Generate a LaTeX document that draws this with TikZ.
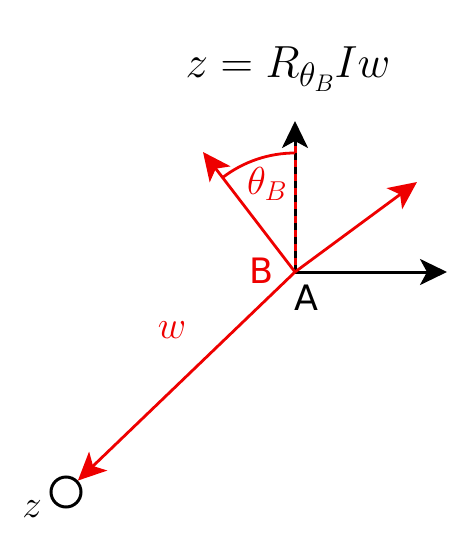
\RequirePackage{fix-cm}
\documentclass[tikz,border=0pt]{standalone}
\usepackage{fontspec}
\newfontfamily\dejavu{DejaVu Sans}
\usetikzlibrary{arrows.meta}
\DeclareMathSizes{45}{45}{34}{24}
\definecolor{rd}{RGB}{238,0,0}
\tikzset{
  blk/.style={line width=3pt, draw=black},
  redl/.style={line width=2.8pt, draw=rd},
  headb/.style={-{Stealth[length=27pt,width=26pt,inset=7pt]}},
  headr/.style={-{Stealth[length=28pt,width=26pt,inset=7pt]}},
  sans/.style={font=\dejavu\fontsize{35}{36}\selectfont},
  mth/.style={font=\fontsize{39}{41}\selectfont},
}
\begin{document}
\begin{tikzpicture}[x=1pt,y=-1pt]
\useasboundingbox (0,0) rectangle (474,553);
\coordinate (O) at (295,272);
\coordinate (X) at (447,272);
\coordinate (Y) at (295,121);
\coordinate (Ytop) at (295,135);
\coordinate (W) at (417,182);
\coordinate (R) at (203,152);
\coordinate (A1) at (295,153);
\node[circle, draw, line width=3pt, minimum size=30pt, inner sep=0pt] (z) at (66,492) {};
% black right arrow
\draw[blk, headb] (O) -- (X);
% red under dashed
\draw[redl, line width=3pt] (O) -- (Ytop);
\draw[blk, dash pattern=on 7pt off 7pt, headb] (O) -- (Y);
% red arrows
\draw[redl, headr] (O) -- (R);
\draw[redl, headr] (O) -- (W);
\draw[redl, headr] (O) -- (z);
% arc
\draw[redl] (A1) arc[start angle=-90, end angle=-127.5, radius=119];
% labels
\node[sans, text=rd] (lB) at (262,271) {B};
\node[sans] (lA) at (306,298) {A};
\node[mth, text=rd] (lw) at (172,330) {$w$};
\node[mth, text=rd] (lth) at (267,184) {$\theta_B$};
\node[mth] (lz) at (32,509) {$z$};
\node[font=\fontsize{45}{47}\selectfont, anchor=base] (title) at (288,78) {$z = R_{\theta_B} I w$};
\end{tikzpicture}
\end{document}
